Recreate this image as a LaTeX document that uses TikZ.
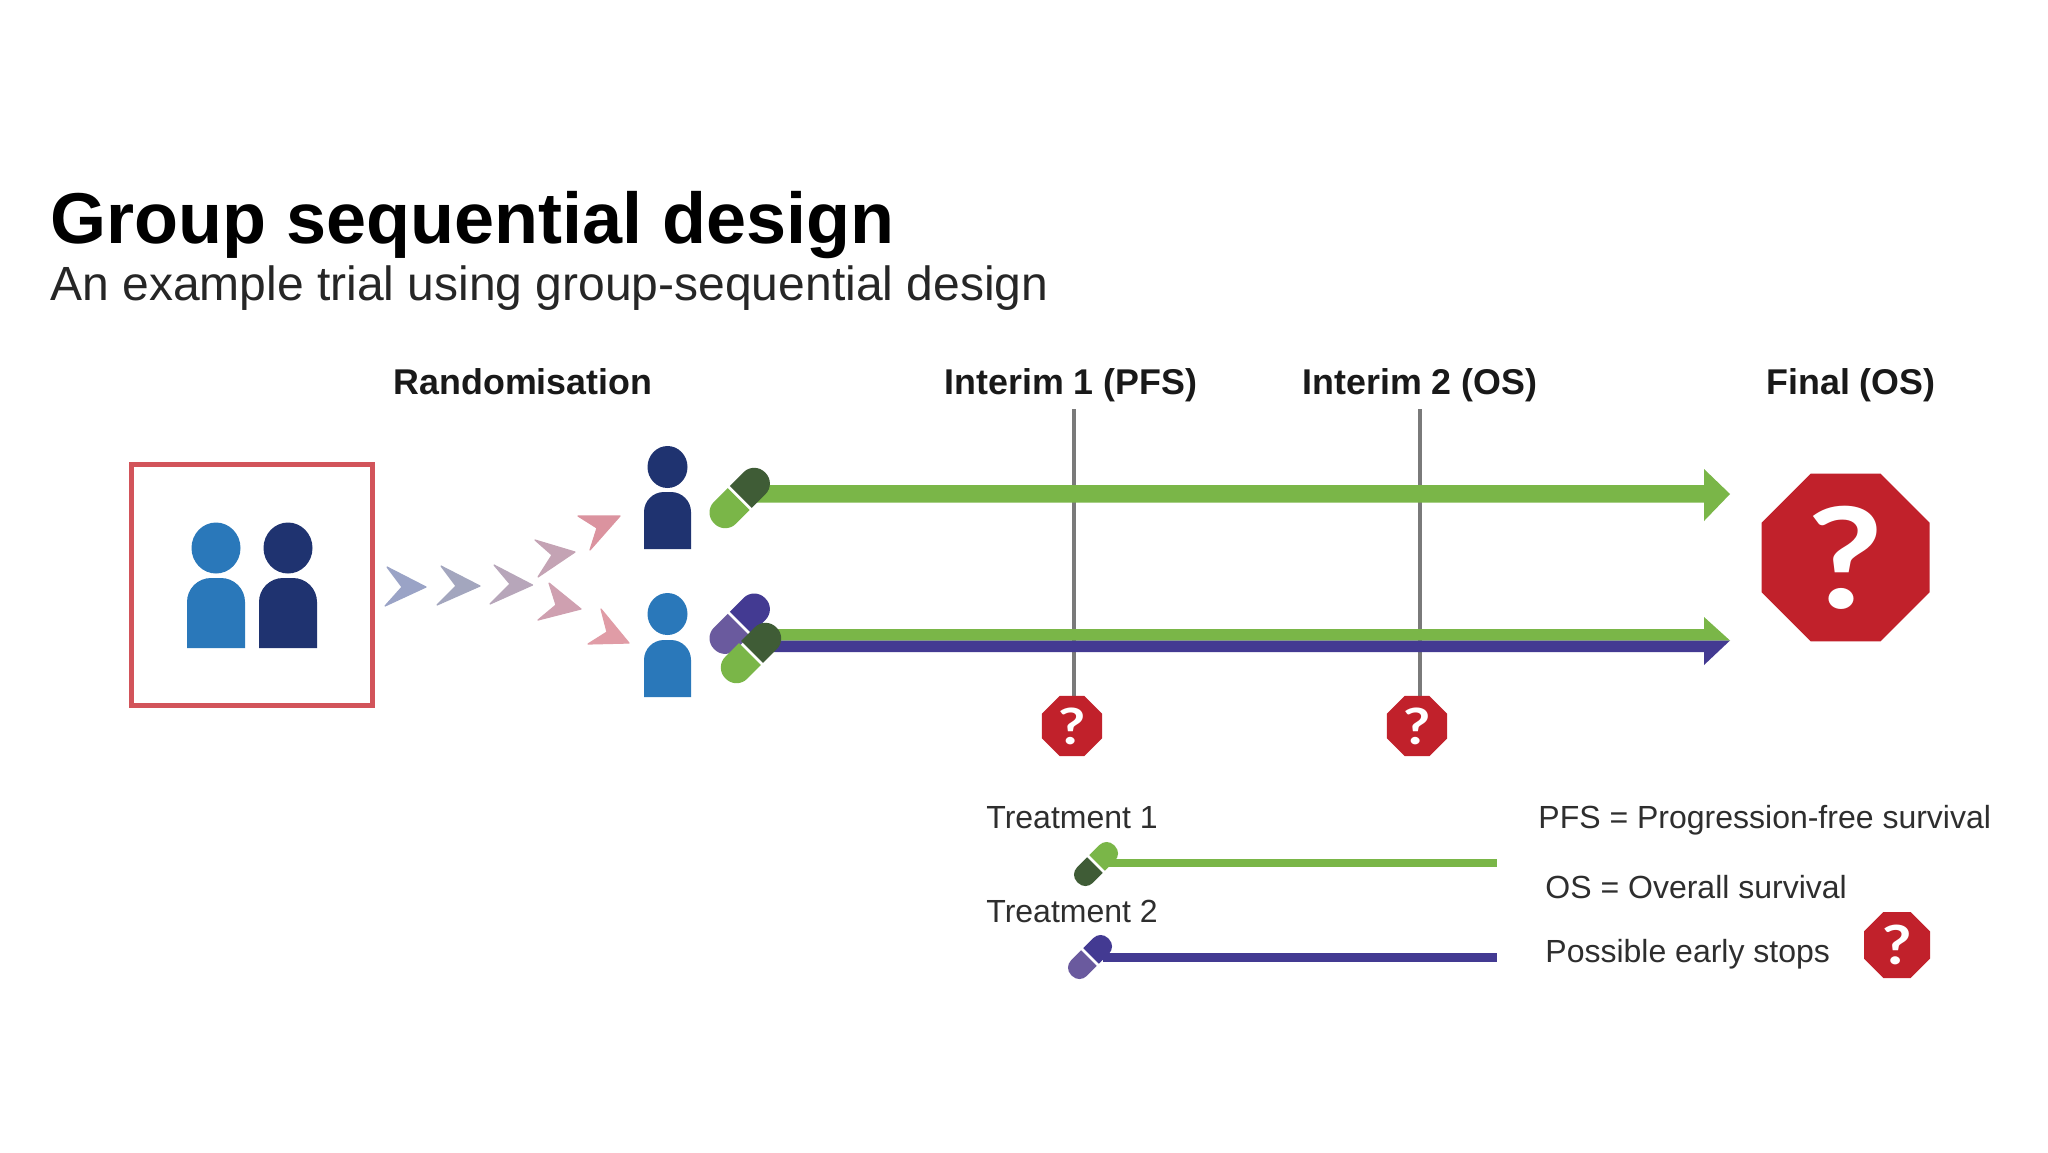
\documentclass[tikz,border=0pt]{standalone}
\usepackage{fontspec}
\usepackage{graphicx}
\setmainfont{Liberation Sans}
\newfontfamily\qfont{Lato}
\usetikzlibrary{shapes.geometric}
\definecolor{lgreen}{HTML}{7AB648}
\definecolor{dgreen}{HTML}{3F5C36}
\definecolor{lpurple}{HTML}{6A5A9E}
\definecolor{dpurple}{HTML}{433A92}
\definecolor{lblue}{HTML}{2A78BA}
\definecolor{dblue}{HTML}{1F3370}
\definecolor{stopred}{HTML}{C1212B}
\definecolor{boxred}{HTML}{D2545A}
\definecolor{vline}{HTML}{7A7A7A}
\definecolor{legtext}{HTML}{2E2E2E}
\definecolor{chevA}{HTML}{9AA3C6}
\definecolor{chevB}{HTML}{A3A6BE}
\definecolor{chevC}{HTML}{B7A6BA}
\definecolor{chevD}{HTML}{C4A3B4}
\definecolor{chevE}{HTML}{DB939F}
\definecolor{chevF}{HTML}{CFA0B0}
\definecolor{chevG}{HTML}{E09CA6}
\tikzset{
  heading/.style={anchor=base,font=\fontsize{17.9}{20}\selectfont\bfseries,text=black!90,inner sep=0pt},
  legendtext/.style={anchor=base west,font=\fontsize{16}{18}\selectfont,text=legtext,inner sep=0pt},
  stopsign/.style={regular polygon,regular polygon sides=8,fill=stopred,text=white,inner sep=0pt},
  chev/.style={line width=0.6pt,line join=round}
}
\newcommand{\qmark}{\scalebox{1.18}[1]{?}}
% pill: cx cy halflength halfwidth radius(pt) lowerleft upperright
\newcommand{\pillshape}[7]{%
  \begin{scope}[shift={(#1,#2)},rotate=45]
    \fill[#6] (-1.5,-#4) [rounded corners=#5pt] -- (-#3,-#4) -- (-#3,#4) [sharp corners] -- (-1.5,#4) -- cycle;
    \fill[#7] (1.5,-#4) [rounded corners=#5pt] -- (#3,-#4) -- (#3,#4) [sharp corners] -- (1.5,#4) -- cycle;
  \end{scope}}
\newcommand{\person}[4]{% cx headcy bodytop colour
  \fill[#4] (#1,#2) ellipse [x radius=20,y radius=21];
  \fill[#4] (#1-23.5,#3+57) -- (#1-23.5,#3+30) [rounded corners=10pt] -- (#1-23.5,#3) -- (#1+23.5,#3) [sharp corners] -- (#1+23.5,#3+57) -- cycle;}
\newcommand{\bigperson}[4]{%
  \fill[#4] (#1,#2) ellipse [x radius=24.5,y radius=25.5];
  \fill[#4] (#1-29,#3+70) -- (#1-29,#3+35) [rounded corners=12pt] -- (#1-29,#3) -- (#1+29,#3) [sharp corners] -- (#1+29,#3+70) -- cycle;}
\begin{document}
\begin{tikzpicture}[x=0.5pt,y=-0.5pt]
\useasboundingbox[fill=white] (0,0) rectangle (2048,1152);
% titles
\node[anchor=base west,inner sep=0pt,font=\fontsize{36}{40}\selectfont\bfseries] (title) at (50,243) {Group sequential design};
\node[anchor=base west,inner sep=0pt,font=\fontsize{24}{28}\selectfont,text=black!85] (subtitle) at (50,300) {An example trial using group-sequential design};
% headings
\node[heading] (rand) at (523,394) {Randomisation};
\node[heading] (int1) at (1071,394) {Interim 1 (PFS)};
\node[heading] (int2) at (1420,394) {Interim 2 (OS)};
\node[heading] (final) at (1851,394) {Final (OS)};
% population box
\draw[boxred,line width=2.5pt] (131,464) rectangle (372,705);
\bigperson{216}{548}{578}{lblue}
\bigperson{288}{548}{578}{dblue}
% chevrons
\filldraw[chev,chevA] (426,587) -- (387,567) -- (402,587) -- (385,606) -- cycle;
\filldraw[chev,chevB] (480,586) -- (441,566) -- (456,586) -- (437,605) -- cycle;
\filldraw[chev,chevC] (532.5,585) -- (494,565) -- (510,584) -- (490,604) -- cycle;
\filldraw[chev,chevD] (575,552) -- (535,540) -- (552,555) -- (538,577) -- cycle;
\filldraw[chev,chevE] (620,516) -- (578,516) -- (597,528) -- (590,550) -- cycle;
\filldraw[chev,chevF] (581,609) -- (549,583) -- (556,605) -- (538,620) -- cycle;
\filldraw[chev,chevG] (629,643) -- (601,609) -- (607,632) -- (588,644) -- cycle;
% persons
\person{667.5}{467}{492}{dblue}
\person{667.5}{614}{640}{lblue}
% vertical interim lines, behind the arms
\coordinate (v1t) at (1073.5,409); \coordinate (v1b) at (1073.5,700);
\coordinate (v2t) at (1420,409); \coordinate (v2b) at (1420,700);
\draw[vline,line width=2pt] (v1t) -- (v1b);
\draw[vline,line width=2pt] (v2t) -- (v2b);
% upper arm
\fill[lgreen] (755,485) -- (1704,485) -- (1704,469) -- (1730,494) -- (1704,521) -- (1704,502.5) -- (755,502.5) -- cycle;
% lower arm
\fill[lgreen] (770,629) -- (1704,629) -- (1704,617) -- (1730,640.5) -- (770,640.5) -- cycle;
\fill[dpurple] (770,640.5) -- (1730,640.5) -- (1704,665) -- (1704,652) -- (770,652) -- cycle;
% pills
\pillshape{739.7}{498}{36}{15.5}{7.5}{lgreen}{dgreen}
\pillshape{739.7}{623.7}{36}{15.5}{7.5}{lpurple}{dpurple}
\pillshape{751}{653}{36}{15.5}{7.5}{lgreen}{dgreen}
% stops
\node[stopsign,minimum size=90.9pt,font=\fontsize{70}{70}\selectfont\qfont\bfseries] (finalstop) at (1845.5,557.5) {\qmark};
\node[stopsign,minimum size=32.5pt,font=\fontsize{25}{25}\selectfont\qfont\bfseries] (stop1) at (1072,726) {\qmark};
\node[stopsign,minimum size=32.5pt,font=\fontsize{25}{25}\selectfont\qfont\bfseries] (stop2) at (1417,726) {\qmark};
\node[stopsign,minimum size=35.7pt,font=\fontsize{27}{27}\selectfont\qfont\bfseries] (stop3) at (1897,945) {\qmark};
% legend
\node[legendtext] (t1) at (986,828) {Treatment 1};
\node[legendtext] (t2) at (986,922) {Treatment 2};
\node[legendtext] (pfs) at (1538,828) {PFS = Progression-free survival};
\node[legendtext] (os) at (1545,898) {OS = Overall survival};
\node[legendtext] (early) at (1545,962) {Possible early stops};
\fill[lgreen] (1108,859) rectangle (1497,867);
\fill[dpurple] (1103,953) rectangle (1497,962);
\pillshape{1096}{864}{26}{11}{5}{dgreen}{lgreen}
\pillshape{1090}{957}{26}{11}{5}{lpurple}{dpurple}
\end{tikzpicture}
\end{document}
